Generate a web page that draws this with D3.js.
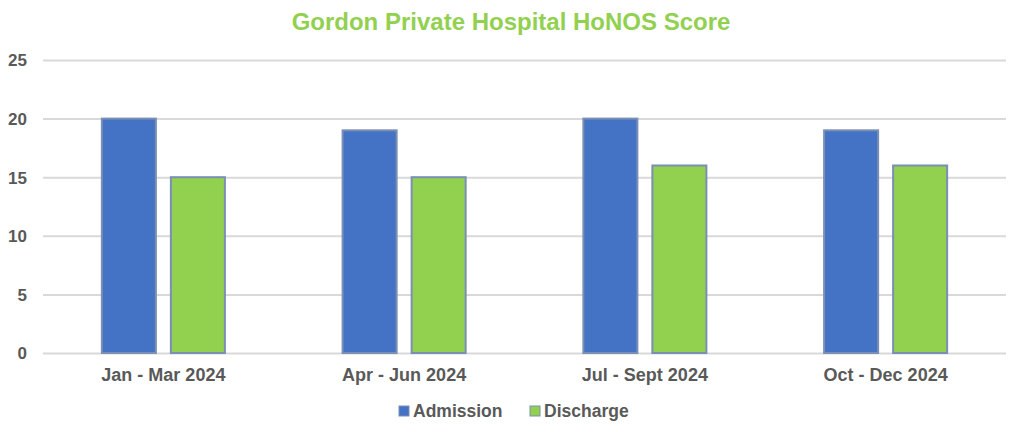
<!DOCTYPE html>
<html><head><meta charset="utf-8">
<script src="https://cdn.jsdelivr.net/npm/d3@7"></script>
<style>body{margin:0;background:#fff;} svg{display:block;}</style>
</head><body>
<svg id="c" width="1020" height="432"></svg>
<script>
const categories = ["Jan - Mar 2024", "Apr - Jun 2024", "Jul - Sept 2024", "Oct - Dec 2024"];
const seriesNames = ["Admission", "Discharge"];
const admission = [20, 19, 20, 19];
const discharge = [15, 15, 16, 16];
const yTicks = [0, 5, 10, 15, 20, 25];
const colors = ["#4472c4", "#92d050"];

(function () {
const svg = d3.select("#c");
const font = "'Liberation Sans', Arial, sans-serif";
const pLeft = 43, pRight = 1006, pTop = 60, pBottom = 353;

const x0 = d3.scaleBand().domain(categories).range([pLeft, pRight]);
const x1 = d3.scaleBand().domain(seriesNames).range([0, x0.bandwidth()]).paddingInner(0.217).paddingOuter(0.853);
const y = d3.scaleLinear().domain([0, 25]).range([pBottom, pTop]);

svg.append("text").attr("x", 511).attr("y", 30).attr("text-anchor", "middle")
  .attr("font-family", font).attr("font-weight", "bold").attr("font-size", 24)
  .attr("fill", "#92d050").text("Gordon Private Hospital HoNOS Score");

const yAxis = d3.axisLeft(y).tickValues(yTicks).tickSize(-(pRight - pLeft)).tickPadding(15);
const gy = svg.append("g").attr("transform", `translate(${pLeft},0)`).call(yAxis);
gy.select(".domain").remove();
gy.selectAll(".tick line").attr("stroke", "#d9d9d9").attr("stroke-width", 2);
gy.selectAll(".tick text").attr("font-family", font).attr("font-weight", "bold")
  .attr("font-size", 17).attr("fill", "#595959").attr("x", -16).attr("dy", "0.35em");

const data = categories.map((c, i) => ({ c, vals: [admission[i], discharge[i]] }));
const g = svg.append("g");
data.forEach(d => {
  d.vals.forEach((v, j) => {
    g.append("rect")
      .attr("x", x0(d.c) + x1(seriesNames[j]))
      .attr("y", y(v))
      .attr("width", x1.bandwidth())
      .attr("height", y(0) - y(v))
      .attr("fill", colors[j])
      .attr("stroke", "#7a8fb3").attr("stroke-width", 2);
  });
});

const xAxis = d3.axisBottom(x0).tickSize(0).tickPadding(15);
const gx = svg.append("g").attr("transform", `translate(0,${pBottom})`).call(xAxis);
gx.select(".domain").remove();
gx.selectAll(".tick text").attr("font-family", font).attr("font-weight", "bold")
  .attr("font-size", 18).attr("fill", "#595959");

const legend = svg.append("g");
const legX = [399, 530];
seriesNames.forEach((s, i) => {
  legend.append("rect").attr("x", legX[i]).attr("y", 406).attr("width", 10).attr("height", 10)
    .attr("fill", colors[i]).attr("stroke", "#7a8fb3").attr("stroke-width", 1);
  legend.append("text").attr("x", legX[i] + 14).attr("y", 417)
    .attr("font-family", font).attr("font-weight", "bold").attr("font-size", 17.5)
    .attr("fill", "#595959").text(s);
});
})();
</script>
</body></html>
